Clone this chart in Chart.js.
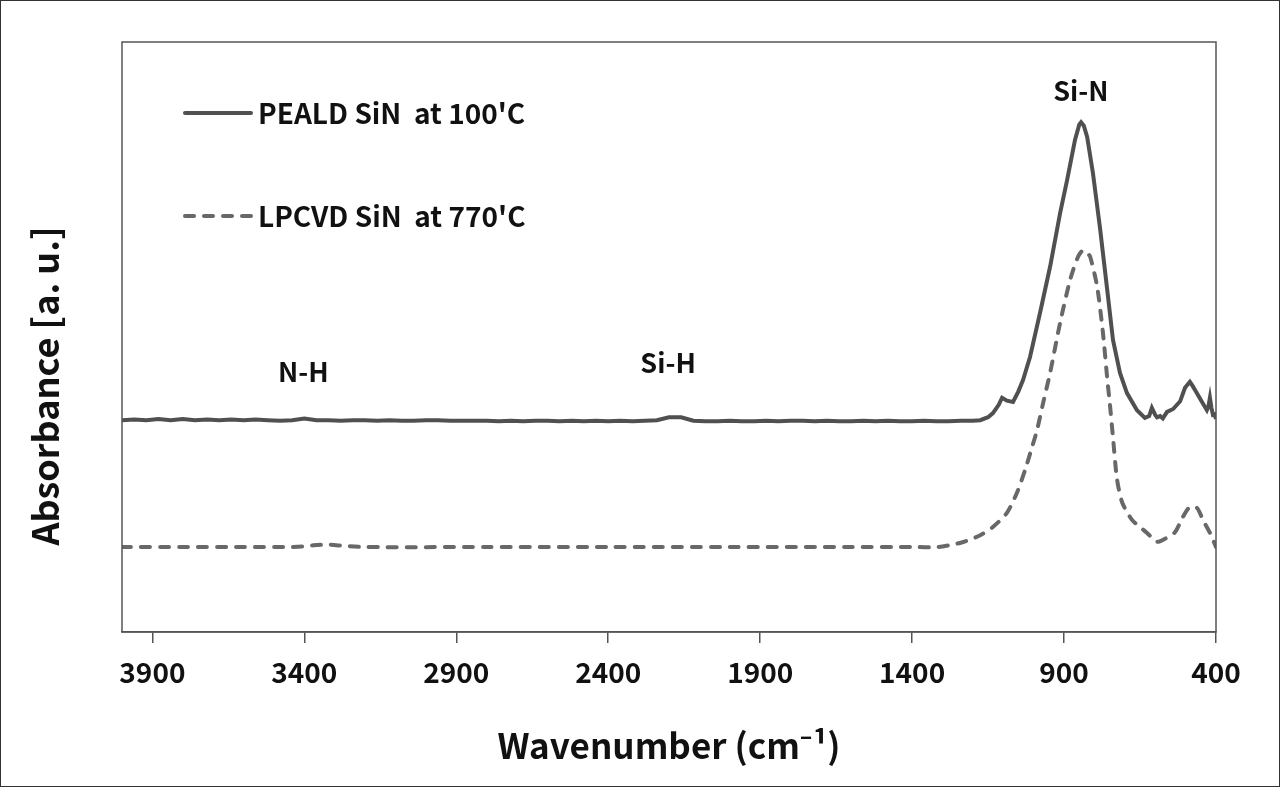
<!DOCTYPE html>
<html>
<head>
<meta charset="utf-8">
<script src="https://cdn.jsdelivr.net/npm/chart.js@4.4.1/dist/chart.umd.min.js"></script>
<style>
  html, body { margin: 0; padding: 0; background: #fff; }
  #wrap { width: 1280px; height: 787px; }
</style>
</head>
<body>
<div id="wrap"><canvas id="chart" width="1280" height="787"></canvas></div>
<script>
// FTIR spectra – PEALD vs LPCVD SiN (absorbance in arbitrary units)
const tickValues = [400, 900, 1400, 1900, 2400, 2900, 3400, 3900];

const pealdWn = [4000, 3960, 3920, 3880, 3840, 3800, 3760, 3720, 3680, 3640, 3600, 3560, 3520, 3480, 3440, 3400, 3360, 3320, 3280, 3240,
  3200, 3160, 3120, 3080, 3040, 3000, 2960, 2920, 2880, 2840, 2800, 2760, 2720, 2680, 2640, 2600, 2560, 2520, 2480, 2440,
  2400, 2360, 2320, 2280, 2240, 2200, 2160, 2120, 2080, 2040, 2000, 1960, 1920, 1880, 1840, 1800, 1760, 1720, 1680, 1640,
  1600, 1560, 1520, 1480, 1440, 1400, 1360, 1320, 1280, 1240, 1200,
  1176, 1150, 1134, 1115, 1104, 1088, 1068, 1051, 1035, 1012, 979, 946, 913, 890, 864, 850, 844, 835, 824, 805,
  782, 758, 739, 716, 693, 660, 634, 620, 611, 600, 594, 584, 575, 561, 541, 518, 502, 486, 478, 469,
  446, 430, 425, 420, 415, 410, 405, 400];
const pealdAbs = [35.9, 36.0, 35.9, 36.1, 35.9, 36.1, 35.9, 36.0, 35.9, 36.0, 35.9, 36.0, 35.9, 35.8, 35.9, 36.2, 35.9, 35.9, 35.8, 35.9,
  35.9, 35.8, 35.9, 35.8, 35.8, 35.9, 35.9, 35.8, 35.8, 35.8, 35.8, 35.7, 35.8, 35.7, 35.8, 35.8, 35.7, 35.8, 35.7, 35.8,
  35.7, 35.8, 35.7, 35.8, 35.9, 36.4, 36.4, 35.8, 35.7, 35.7, 35.8, 35.7, 35.7, 35.8, 35.7, 35.8, 35.8, 35.7, 35.8, 35.7,
  35.7, 35.8, 35.7, 35.8, 35.7, 35.7, 35.8, 35.7, 35.7, 35.8, 35.8,
  35.9, 36.4, 37.1, 38.5, 39.7, 39.2, 39.0, 40.7, 42.7, 46.6, 54.1, 61.9, 71.0, 76.6, 83.4, 86.0, 86.4, 85.8, 83.9, 77.8,
  68.6, 58.0, 49.5, 43.9, 40.5, 37.6, 36.3, 36.6, 38.0, 36.8, 36.4, 36.6, 36.2, 37.3, 37.8, 39.1, 41.4, 42.4, 41.8, 41.0,
  39.0, 37.6, 38.2, 39.7, 38.0, 36.8, 36.9, 36.1];

const lpcvdWn = [4000, 3800, 3600, 3450, 3400, 3370, 3320, 3270, 3200, 2800, 2400, 2000, 1600, 1400, 1318, 1275, 1232, 1176, 1134, 1088,
  1055, 1028, 1005, 989, 969, 946, 913, 880, 854, 838, 825, 814, 791, 772, 758, 749, 739, 726, 709, 676,
  627, 594, 568, 535, 509, 486, 462, 443, 420, 400];
const lpcvdAbs = [14.4, 14.4, 14.4, 14.4, 14.5, 14.7, 14.8, 14.6, 14.4, 14.4, 14.4, 14.4, 14.4, 14.4, 14.4, 14.75, 15.25, 16.4, 17.8, 20.2,
  23.6, 27.5, 31.4, 34.2, 38.8, 43.9, 52.4, 59.7, 63.6, 64.7, 64.3, 63.6, 58.5, 50.7, 43.0, 38.5, 33.0, 26.0, 22.0, 19.0,
  16.8, 15.3, 15.8, 16.9, 19.5, 21.2, 21.0, 19.0, 16.8, 14.4];

const seriesNames = ["PEALD SiN  at 100'C", "LPCVD SiN  at 770'C"];
const peakLabels = [
  { text: "Si-N", wn: 845, y: 91.7 },
  { text: "N-H", wn: 3403, y: 44.1 },
  { text: "Si-H", wn: 2203, y: 45.6 },
];
const yTitle = "Absorbance [a. u.]";

const FONT = "'Noto Sans CJK KR', 'Noto Sans', sans-serif";
const SOLID = "#505050";
const DASHED = "#686868";

const toPoints = (xs, ys) => xs.map((x, i) => ({ x, y: ys[i] }));

// frame, legend, peak labels, y title, outer border
const decor = {
  id: "decor",
  afterDraw(chart) {
    const { ctx, chartArea: a, scales } = chart;
    ctx.save();
    ctx.strokeStyle = "#555";
    ctx.lineWidth = 1.5;
    ctx.strokeRect(a.left, a.top, a.right - a.left, a.bottom - a.top);
    ctx.strokeStyle = "#333";
    ctx.lineWidth = 1;
    ctx.strokeRect(0.5, 0.5, chart.width - 1, chart.height - 1);

    // legend
    const lx = a.left + 61, ly = a.top + 71;
    ctx.lineWidth = 4;
    ctx.lineCap = "round";
    ctx.strokeStyle = SOLID;
    ctx.beginPath(); ctx.moveTo(lx + 2, ly); ctx.lineTo(lx + 68, ly); ctx.stroke();
    ctx.strokeStyle = DASHED;
    ctx.setLineDash([9, 10]);
    ctx.beginPath(); ctx.moveTo(lx + 2, ly + 103); ctx.lineTo(lx + 68, ly + 103); ctx.stroke();
    ctx.setLineDash([]);
    ctx.fillStyle = "#111";
    ctx.font = "bold 28px " + FONT;
    ctx.textBaseline = "middle";
    ctx.textAlign = "left";
    ctx.fillText(seriesNames[0], lx + 75, ly);
    ctx.fillText(seriesNames[1], lx + 75, ly + 103);

    // peak labels
    ctx.textAlign = "center";
    ctx.font = "bold 27px " + FONT;
    peakLabels.forEach(p => {
      ctx.fillText(p.text, scales.x.getPixelForValue(p.wn), scales.y.getPixelForValue(p.y));
    });

    // y axis title
    ctx.translate(45, 386);
    ctx.rotate(-Math.PI / 2);
    ctx.font = "bold 36px " + FONT;
    ctx.fillText(yTitle, 0, 0);
    ctx.restore();
  }
};

new Chart(document.getElementById("chart").getContext("2d"), {
  type: "line",
  data: {
    datasets: [
      { label: seriesNames[0], data: toPoints(pealdWn, pealdAbs), borderColor: SOLID, borderWidth: 4, pointRadius: 0, tension: 0 },
      { label: seriesNames[1], data: toPoints(lpcvdWn, lpcvdAbs), borderColor: DASHED, borderWidth: 4, pointRadius: 0,
        borderDash: [9, 10], borderCapStyle: "round", tension: 0.25 },
    ],
  },
  options: {
    responsive: false,
    animation: false,
    layout: { padding: { left: 122, right: 64, top: 42, bottom: 0 } },
    plugins: { legend: { display: false }, tooltip: { enabled: false } },
    scales: {
      x: {
        type: "linear", reverse: true, min: 400, max: 4000,
        afterBuildTicks: s => { s.ticks = tickValues.map(v => ({ value: v })); },
        afterFit: s => { s.height = 155; },
        grid: { drawOnChartArea: false, drawTicks: true, tickLength: 11, color: "#555", lineWidth: 1.5 },
        border: { display: true, color: "#555", width: 1.5 },
        ticks: { font: { family: FONT, size: 28, weight: "bold" }, color: "#111", padding: 13, maxRotation: 0, autoSkip: false,
          callback: v => String(v) },
        title: { display: true, text: "Wavenumber (cm⁻¹)", font: { family: FONT, size: 35, weight: "bold" }, color: "#111", padding: { top: 0, bottom: 20 } },
      },
      y: { display: false, min: 0, max: 100 },
    },
  },
  plugins: [decor],
});
</script>
</body>
</html>
